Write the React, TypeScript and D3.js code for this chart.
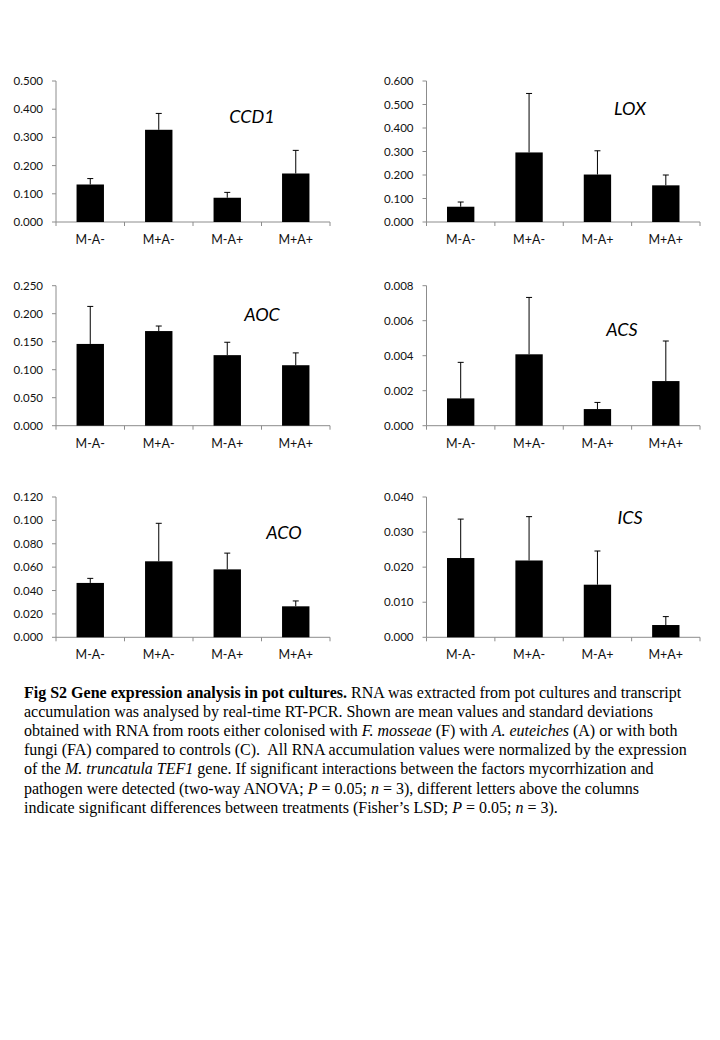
import React, { useEffect, useRef } from "react";
import * as d3 from "d3";

const categories = ["M-A-", "M+A-", "M-A+", "M+A+"];

const ccd1Mean = [0.133, 0.327, 0.086, 0.172];
const ccd1Sd = [0.021, 0.058, 0.019, 0.082];
const loxMean = [0.065, 0.296, 0.202, 0.156];
const loxSd = [0.02, 0.251, 0.101, 0.044];
const aocMean = [0.146, 0.169, 0.126, 0.108];
const aocSd = [0.067, 0.009, 0.023, 0.022];
const acsMean = [0.00156, 0.00408, 0.00095, 0.00255];
const acsSd = [0.00206, 0.00325, 0.00038, 0.00229];
const acoMean = [0.0465, 0.065, 0.0581, 0.0265];
const acoSd = [0.0039, 0.0325, 0.0139, 0.0046];
const icsMean = [0.0226, 0.0219, 0.015, 0.0035];
const icsSd = [0.0111, 0.0125, 0.0096, 0.0024];

const geneNames = ["CCD1", "LOX", "AOC", "ACS", "ACO", "ICS"];
const yMaxes = [0.5, 0.6, 0.25, 0.008, 0.12, 0.04];
const ySteps = [0.1, 0.1, 0.05, 0.002, 0.02, 0.01];

const captionLines: [string, string][][] = [
  [["b", "Fig S2 Gene expression analysis in pot cultures."], ["n", " RNA was extracted from pot cultures and transcript"]],
  [["n", "accumulation was analysed by real-time RT-PCR. Shown are mean values and standard deviations"]],
  [["n", "obtained with RNA from roots either colonised with "], ["i", "F. mosseae"], ["n", " (F) with "], ["i", "A. euteiches"], ["n", " (A) or with both"]],
  [["n", "fungi (FA) compared to controls (C).  All RNA accumulation values were normalized by the expression"]],
  [["n", "of the "], ["i", "M. truncatula TEF1"], ["n", " gene. If significant interactions between the factors mycorrhization and"]],
  [["n", "pathogen were detected (two-way ANOVA; "], ["i", "P"], ["n", " = 0.05; "], ["i", "n"], ["n", " = 3), different letters above the columns"]],
  [["n", "indicate significant differences between treatments (Fisher\u2019s LSD; "], ["i", "P"], ["n", " = 0.05; "], ["i", "n"], ["n", " = 3)."]],
];

const means = [ccd1Mean, loxMean, aocMean, acsMean, acoMean, icsMean];
const sds = [ccd1Sd, loxSd, aocSd, acsSd, acoSd, icsSd];

// layout
const colX = [
  [56, 330],
  [426.5, 700],
];
const rowY = [
  [81, 222],
  [285.7, 425.7],
  [497, 637.3],
];
const labelPos = [
  [252, 122.5],
  [630, 115],
  [262, 320.5],
  [622, 335.5],
  [284, 539],
  [630, 524],
];

export default function App() {
  const ref = useRef<SVGSVGElement>(null);

  useEffect(() => {
    const svg = d3.select(ref.current);
    svg.selectAll("*").remove();
    const font = "Lato, 'Open Sans', sans-serif";
    const axisColor = "#8c8c8c";

    geneNames.forEach((gene, idx) => {
      const col = idx % 2;
      const row = Math.floor(idx / 2);
      const [x0, x1] = colX[col];
      const [yTop, yBot] = rowY[row];
      const g = svg.append("g");

      const x = d3
        .scaleBand<string>()
        .domain(categories)
        .range([x0, x1])
        .paddingInner(0.6)
        .paddingOuter(0.3);
      const y = d3.scaleLinear().domain([0, yMaxes[idx]]).range([yBot, yTop]);
      const ticks = d3.range(0, yMaxes[idx] + ySteps[idx] / 2, ySteps[idx]);

      // y axis
      g.append("line")
        .attr("x1", x0).attr("x2", x0)
        .attr("y1", yTop).attr("y2", yBot)
        .attr("stroke", axisColor).attr("stroke-width", 1);
      ticks.forEach((t) => {
        g.append("line")
          .attr("x1", x0 - 4).attr("x2", x0)
          .attr("y1", y(t)).attr("y2", y(t))
          .attr("stroke", axisColor).attr("stroke-width", 1);
        g.append("text")
          .attr("x", x0 - 13)
          .attr("y", y(t) + 4)
          .attr("text-anchor", "end")
          .attr("font-family", font)
          .attr("font-size", 11.5)
          .attr("fill", "#111")
          .text(d3.format(".3f")(t));
      });

      // x axis
      g.append("line")
        .attr("x1", x0).attr("x2", x1)
        .attr("y1", yBot).attr("y2", yBot)
        .attr("stroke", axisColor).attr("stroke-width", 1);
      const step = x.step();
      d3.range(0, categories.length + 1).forEach((i) => {
        const bx = x0 + i * step;
        g.append("line")
          .attr("x1", bx).attr("x2", bx)
          .attr("y1", yBot).attr("y2", yBot + 4)
          .attr("stroke", axisColor).attr("stroke-width", 1);
      });
      categories.forEach((c) => {
        g.append("text")
          .attr("x", (x(c) as number) + x.bandwidth() / 2)
          .attr("y", yBot + 22)
          .attr("text-anchor", "middle")
          .attr("font-family", font)
          .attr("font-size", 12.5)
          .attr("fill", "#111")
          .text(c);
      });

      // error bars (upper only)
      categories.forEach((c, i) => {
        const cx = (x(c) as number) + x.bandwidth() / 2;
        const top = y(means[idx][i] + sds[idx][i]);
        g.append("line")
          .attr("x1", cx).attr("x2", cx)
          .attr("y1", y(means[idx][i])).attr("y2", top)
          .attr("stroke", "#000").attr("stroke-width", 1);
        g.append("line")
          .attr("x1", cx - 3).attr("x2", cx + 3)
          .attr("y1", top).attr("y2", top)
          .attr("stroke", "#000").attr("stroke-width", 1);
      });

      // bars
      categories.forEach((c, i) => {
        g.append("rect")
          .attr("x", x(c) as number)
          .attr("y", y(means[idx][i]))
          .attr("width", x.bandwidth())
          .attr("height", yBot - y(means[idx][i]))
          .attr("fill", "#000");
      });

      g.append("text")
        .attr("x", labelPos[idx][0])
        .attr("y", labelPos[idx][1])
        .attr("text-anchor", "middle")
        .attr("font-family", font)
        .attr("font-style", "italic")
        .attr("font-size", 18)
        .attr("fill", "#000")
        .text(gene);
    });

    // caption
    const cap = svg.append("g");
    captionLines.forEach((line, li) => {
      const t = cap
        .append("text")
        .attr("x", 24)
        .attr("y", 698 + li * 19.1)
        .attr("font-family", "'Liberation Serif', 'Times New Roman', serif")
        .attr("font-size", 16)
        .attr("fill", "#000")
        .style("white-space", "pre");
      line.forEach(([kind, s]) => {
        const sp = t.append("tspan").text(s);
        if (kind === "b") sp.attr("font-weight", "bold");
        if (kind === "i") sp.attr("font-style", "italic");
      });
    });
  }, []);

  return (
    <svg
      ref={ref}
      width={720}
      height={1040}
      style={{ position: "absolute", left: 0, top: 0, background: "#fff" }}
    />
  );
}
